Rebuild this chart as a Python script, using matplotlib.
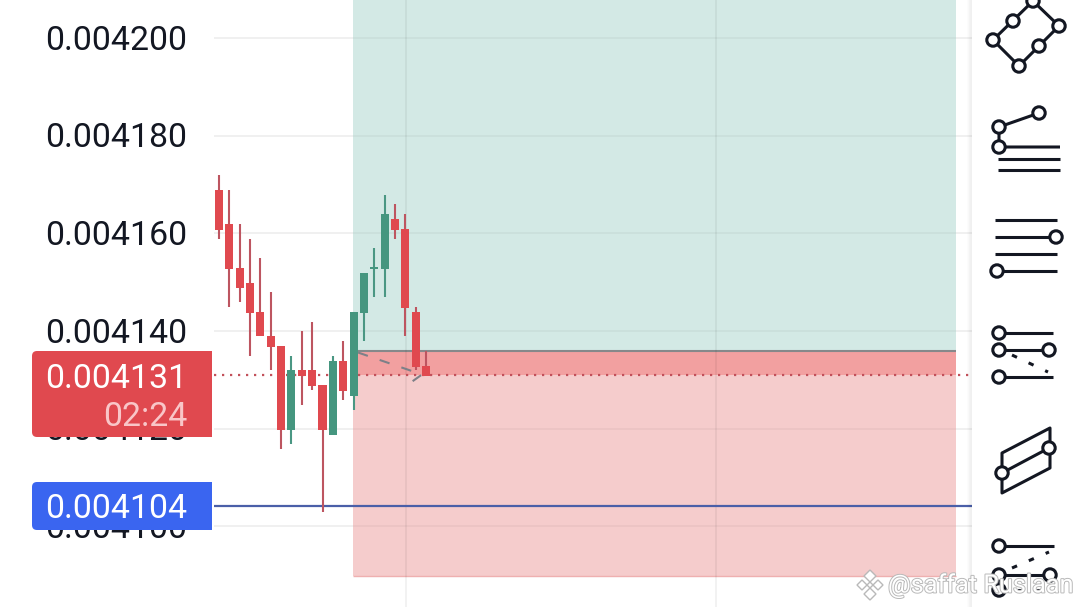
import matplotlib
matplotlib.use("Agg")
import matplotlib.pyplot as plt
import matplotlib.patheffects as pe
from matplotlib.patches import FancyBboxPatch, Rectangle, Circle, Polygon

plt.rcParams['font.family'] = ['Roboto', 'DejaVu Sans']

# --- data (prices) ---
opens = [.0041689,.0041619,.0041529,.0041499,.0041439,.0041390,.0041370,.0041198,.0041320,.0041320,.0041290,
         .0041187,.0041339,.0041267,.0041437,.0041527,.0041527,.0041630,.0041609,.0041439,.0041329]
closes = [.0041607,.0041528,.0041488,.0041437,.0041389,.0041367,.0041198,.0041320,.0041308,.0041288,.0041198,
          .0041339,.0041277,.0041439,.0041519,.0041531,.0041640,.0041607,.0041447,.0041327,.0041308]
highs = [.0041720,.0041689,.0041619,.0041589,.0041550,.0041480,.0041370,.0041349,.0041400,.0041419,.0041290,
         .0041349,.0041380,.0041439,.0041519,.0041570,.0041679,.0041660,.0041640,.0041449,.0041359]
lows = [.0041589,.0041450,.0041460,.0041349,.0041389,.0041320,.0041159,.0041169,.0041249,.0041280,.0041030,
        .0041187,.0041259,.0041238,.0041380,.0041470,.0041470,.0041589,.0041390,.0041320,.0041308]
tick_values = [.0042, .00418, .00416, .00414, .00412, .0041]
tick_labels = ["0.004200", "0.004180", "0.004160", "0.004140", "0.004120", "0.004100"]
last_price = .004131
last_label = "0.004131"
countdown = "02:24"
alert_price = .0041042
alert_label = "0.004104"
entry_price = .0041359
stop_price = .0040899
watermark = "@saffat Ruslaan"

RED, GREEN = "#e0494f", "#45967f"
RED_W, GREEN_W = "#bd5560", "#4a9783"

# --- scale: candle index / price to 1080x607 pixels ---
X0, DX = 219.0, 10.35
PY0, PV0, PPU = 38.0, .0042, 4.885e6
def xi(px):
    return (px - X0) / DX
def yv(py):
    return PV0 + (PY0 - py) / PPU

fig = plt.figure(figsize=(10.8, 6.07), dpi=100, facecolor="white")
ax = fig.add_axes([0, 0, 1, 1])
ax.set_xlim(xi(0), xi(1080))
ax.set_ylim(yv(607), yv(0))
ax.axis("off")

# grid
ax.hlines(tick_values, xi(214), xi(972), color="#f0f0f0", lw=1.4, zorder=1)

# position tool
bx0, bx1 = xi(353), xi(956)
ax.add_patch(Rectangle((bx0, entry_price), bx1 - bx0, yv(0) - entry_price, fc="#d3e9e5", ec="none", zorder=2))
ax.add_patch(Rectangle((bx0, stop_price), bx1 - bx0, entry_price - stop_price, fc="#f5cccc", ec="none", zorder=2))
ax.add_patch(Rectangle((bx0, last_price), bx1 - bx0, entry_price - last_price, fc="#f2a0a0", ec="none", zorder=2.1))
ax.hlines(entry_price, bx0, bx1, color="#86888a", lw=1.5, zorder=3)
ax.hlines(stop_price, bx0, bx1, color="#efb0b0", lw=1, zorder=3)
ax.hlines(tick_values, bx0, bx1, color="#000000", alpha=0.035, lw=1.4, zorder=3)
ax.vlines([xi(406), xi(716)], yv(607), yv(0), color="#000000", alpha=0.06, lw=1.2, zorder=3)

# price lines
ax.hlines(alert_price, xi(214), xi(972), color="#4a5fa8", lw=1.6, zorder=4)
ax.hlines(last_price, xi(214), xi(972), color="#c2505a", lw=1.6, linestyles=(0, (1, 2.6)), zorder=4)

# projected path
ax.plot([xi(358), xi(422), xi(408)], [yv(352.5), yv(374.5), yv(384.5)], color="#7d8088", lw=1.5,
        dashes=(5, 6), zorder=4.5)

# candles
for i, (o, c, h, l) in enumerate(zip(opens, closes, highs, lows)):
    up = c >= o
    ax.vlines(i, l, h, color=GREEN_W if up else RED_W, lw=1.5, zorder=5)
    ax.bar(i, abs(c - o), bottom=min(o, c), width=0.773, color=GREEN if up else RED, zorder=6)

# UI overlay in screen pixels
ui = fig.add_axes([0, 0, 1, 1], facecolor="none")
ui.set_xlim(0, 1080)
ui.set_ylim(607, 0)
ui.axis("off")

FS = 24.4
for v, t in zip(tick_values, tick_labels):
    ui.text(187.5, PY0 + (PV0 - v) * PPU + 2.5, t, ha="right", va="center", fontsize=FS, color="#131722", zorder=2)

def label_box(y0, y1, color):
    ui.add_patch(FancyBboxPatch((37, y0 + 5), 170, y1 - y0 - 10, boxstyle="round,pad=5,rounding_size=5",
                                fc=color, ec="none", zorder=3))
    ui.add_patch(Rectangle((190, y0), 22, y1 - y0, fc=color, ec="none", zorder=3))

label_box(351, 437, "#e0494f")
label_box(482, 530, "#3a65f0")
ui.text(187.5, 378.5, last_label, ha="right", va="center", fontsize=FS, color="white", zorder=4)
ui.text(187.5, 417.5, countdown, ha="right", va="center", fontsize=FS, color="#f9c6c8", zorder=4)
ui.text(187.5, 509.5, alert_label, ha="right", va="center", fontsize=FS, color="white", zorder=4)

# sidebar and its shadow
ui.add_patch(Rectangle((972, 0), 108, 607, fc="white", ec="none", zorder=5))
for k, a in enumerate([.02, .04, .07, .09, .1]):
    ui.add_patch(Rectangle((967 + k, 0), 1, 607, fc="black", alpha=a * 0.6, ec="none", zorder=5))

INK = "#131722"
def seg(pts, ls="-", lw=2.2):
    ui.plot(*zip(*pts), color=INK, lw=lw, ls=ls, solid_capstyle="butt", zorder=6)
def dots(pts):
    for p in pts:
        ui.add_patch(Circle(p, 6.2, fc="white", ec=INK, lw=2.2, zorder=7))

DOT = (0, (1.8, 4.2))
seg([(993, 40), (1033, 1), (1059, 26), (1019, 66), (993, 40)])
dots([(993, 40), (1013, 21), (1033, 1), (1059, 26), (1039, 46), (1019, 66)])

seg([(1039, 113), (999, 127), (999, 147), (1060, 147)])
seg([(998, 159), (1060, 159)]); seg([(998, 170), (1060, 170)])
dots([(1039, 113), (999, 127), (999, 147)])

for y in (220, 237, 254):
    seg([(995, y), (1057, y)])
seg([(997, 271), (1057, 271)])
dots([(1056, 237), (997, 271)])

seg([(999, 333), (1053, 333)]); seg([(999, 350), (1049, 350)]); seg([(999, 377), (1053, 377)])
seg([(1012, 355), (1048, 372)], ls=DOT)
dots([(999, 333), (999, 350), (1049, 350), (999, 377)])

seg([(1002, 473), (1002, 453), (1050, 428), (1050, 468), (1002, 493), (1002, 473), (1049, 448)])
dots([(1002, 473), (1049, 448)])

seg([(999, 546), (1054, 546)]); seg([(999, 575), (1050, 575)]); seg([(999, 590), (1055, 590)], ls=DOT)
seg([(1012, 568), (1049, 552)], ls=DOT)
dots([(999, 546), (999, 575), (1050, 575), (999, 590)])

# watermark
stroke = [pe.withStroke(linewidth=1.4, foreground="#b9b9b9")]
ui.text(888, 585, watermark, ha="left", va="center", fontsize=18.2, color="white", zorder=9, path_effects=stroke)
for cx, cy, r in [(870, 576, 6), (862, 585, 5), (878, 585, 5), (870, 594, 6), (870, 585, 3)]:
    ui.add_patch(Polygon([(cx, cy - r), (cx + r, cy), (cx, cy + r), (cx - r, cy)], fc="white", ec="#b9b9b9",
                         lw=1, zorder=9))

fig.savefig("out.png", dpi=100)
